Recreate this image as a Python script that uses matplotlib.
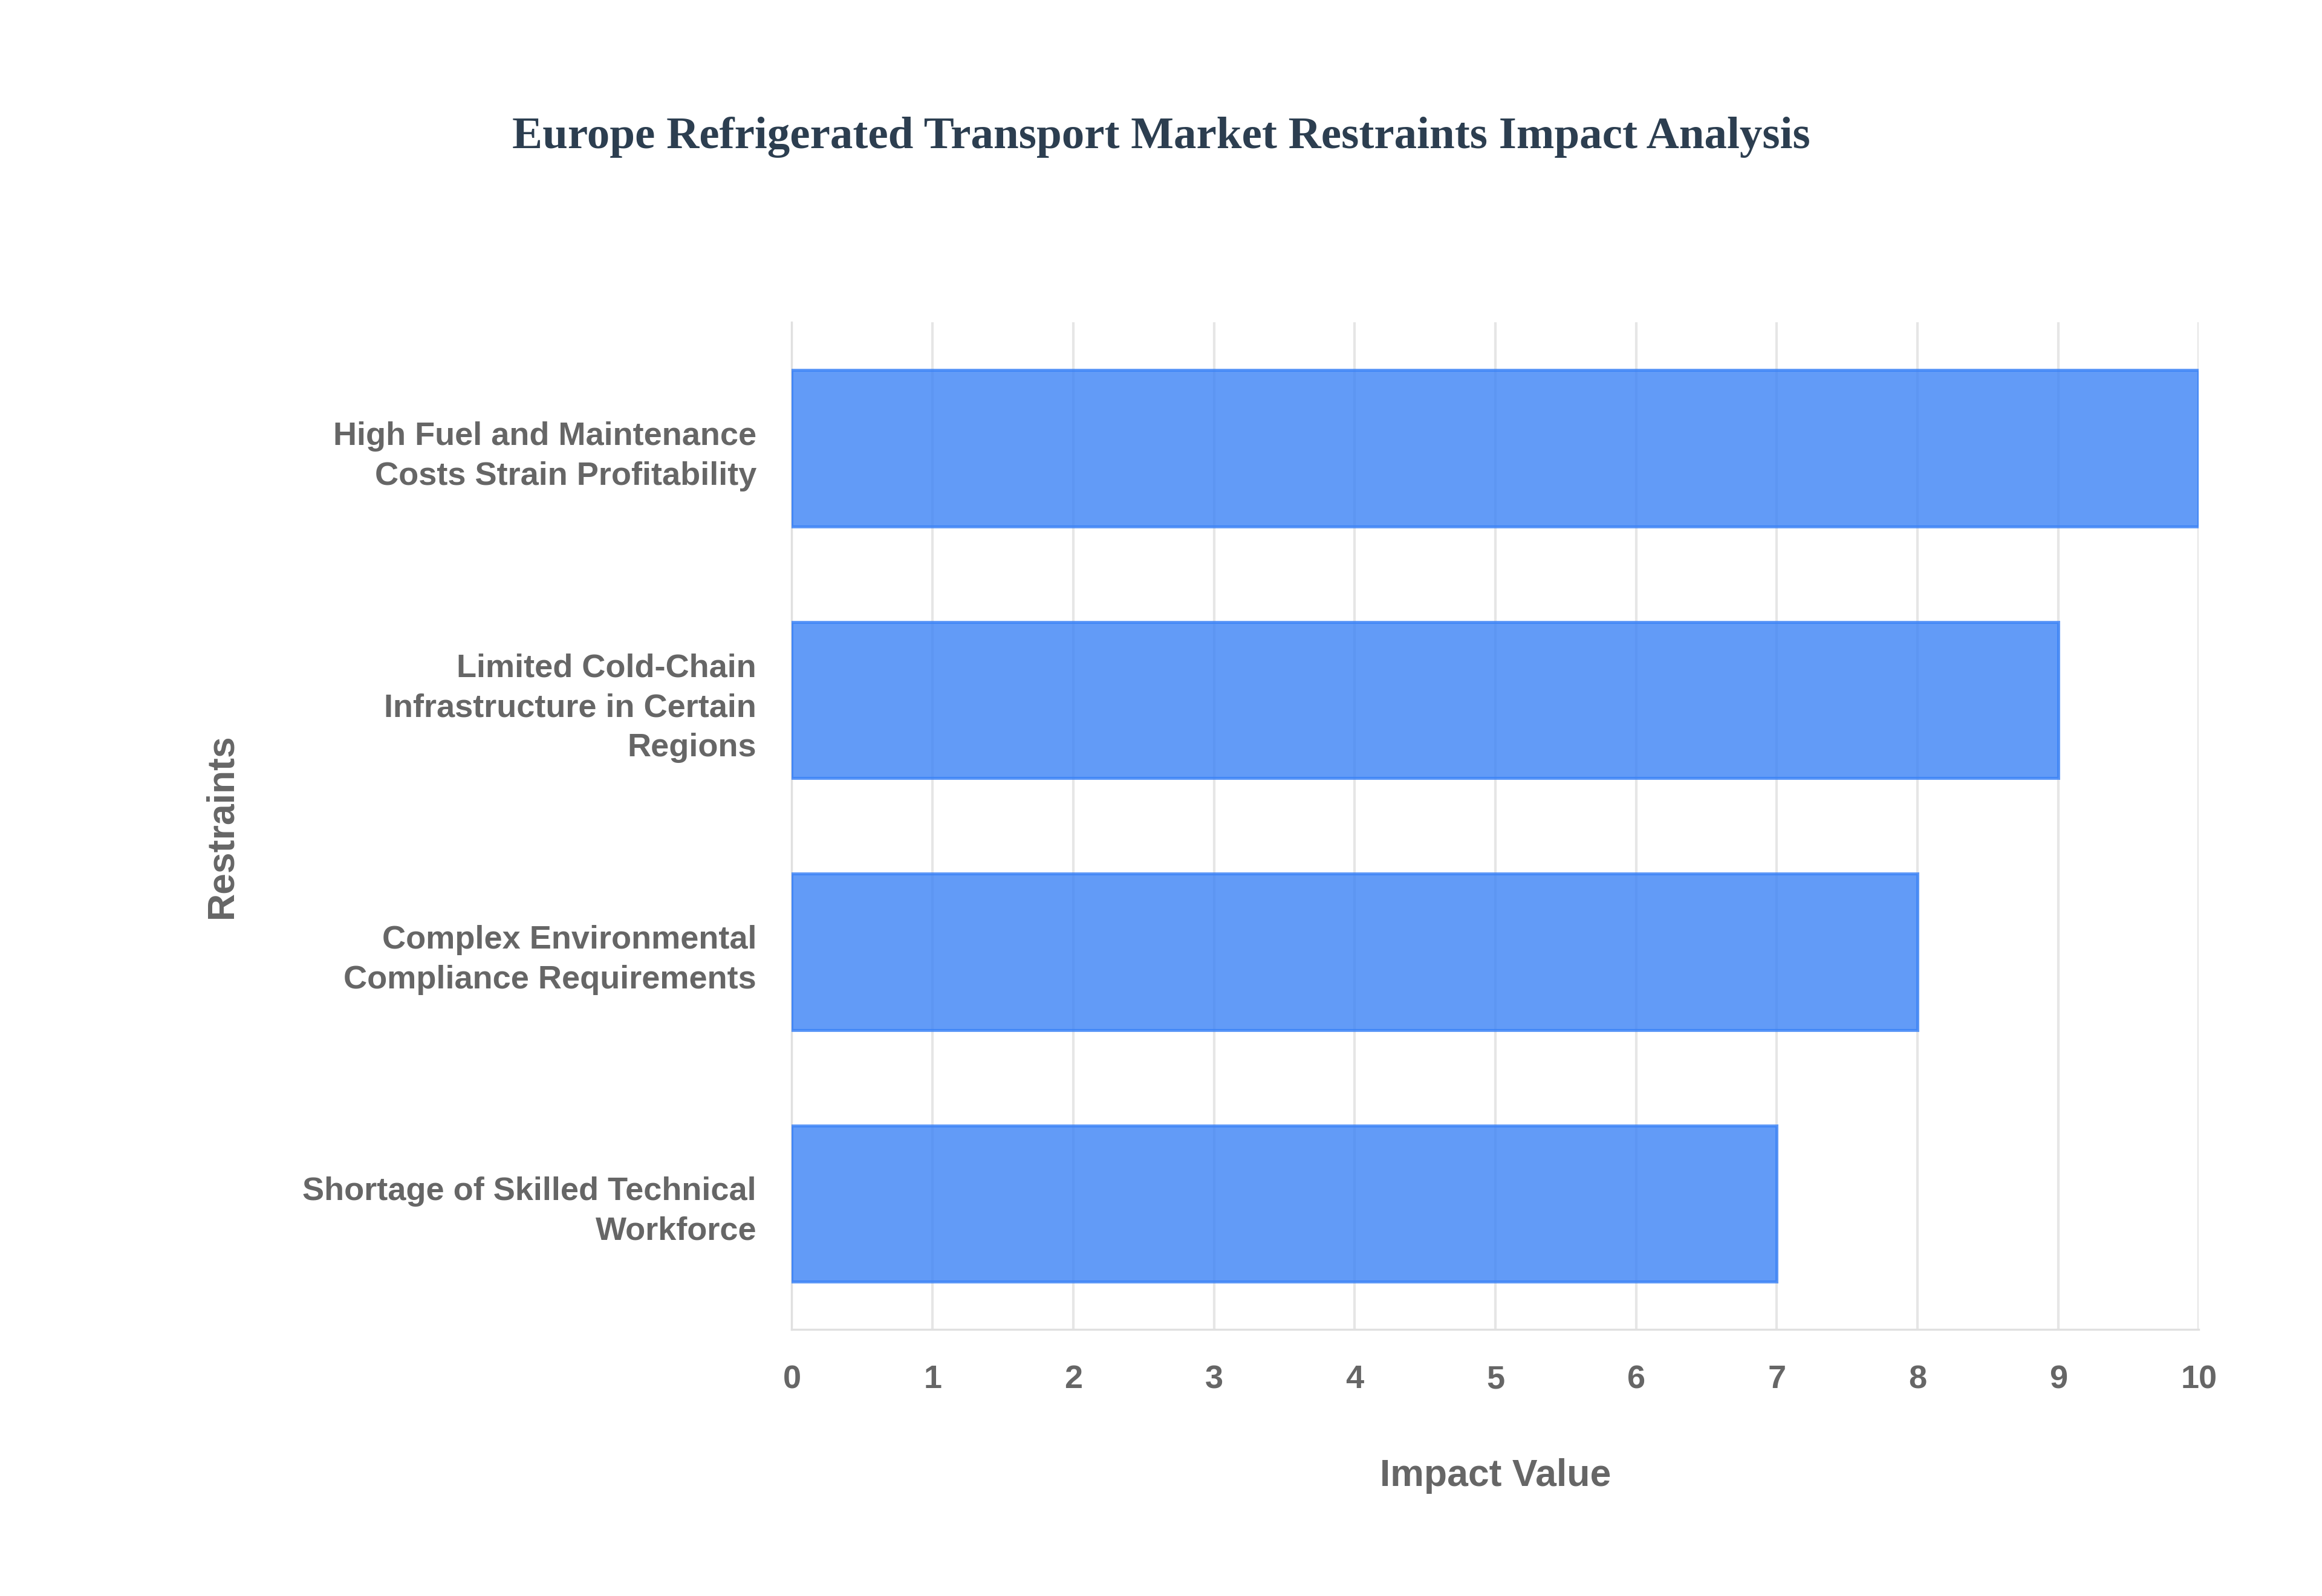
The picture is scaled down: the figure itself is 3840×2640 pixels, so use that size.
import matplotlib.pyplot as plt
import textwrap

restraints = [
    'High Fuel and Maintenance Costs Strain Profitability',
    'Limited Cold-Chain Infrastructure in Certain Regions',
    'Complex Environmental Compliance Requirements',
    'Shortage of Skilled Technical Workforce',
]
impact = [10, 9, 8, 7]
label_lines = [
    'High Fuel and Maintenance\nCosts Strain Profitability',
    'Limited Cold-Chain\nInfrastructure in Certain\nRegions',
    'Complex Environmental\nCompliance Requirements',
    'Shortage of Skilled Technical\nWorkforce',
]

plt.rcParams['font.family'] = ['Liberation Sans', 'DejaVu Sans']
fig = plt.figure(figsize=(12.8, 8.8), dpi=300)
ax = fig.add_axes([0.341, 0.167, 0.606, 0.631])

y = list(range(len(restraints)))[::-1]
ax.barh(y, impact, height=0.62, color='#3b82f6', alpha=0.8,
        edgecolor='#3b82f6', linewidth=1.2, zorder=3)

ax.set_xlim(0, 10)
ax.set_ylim(-0.5, 3.5)
ax.set_xticks(range(0, 11))
ax.set_yticks(y)
ax.set_yticklabels(label_lines, ha='right', linespacing=1.4)
ax.tick_params(axis='both', length=0, labelsize=13, labelcolor='#666666', pad=14)
for t in ax.get_xticklabels() + ax.get_yticklabels():
    t.set_fontweight('bold')
ax.grid(axis='x', color='#e6e6e6', linewidth=1, zorder=0)
for s in ['top', 'right']:
    ax.spines[s].set_visible(False)
for s in ['left', 'bottom']:
    ax.spines[s].set_color('#e0e0e0')

ax.set_xlabel('Impact Value', fontsize=15, fontweight='bold', color='#666666', labelpad=25)
ax.set_ylabel('Restraints', fontsize=15, fontweight='bold', color='#666666', labelpad=25)

fig.text(0.5, 0.914, 'Europe Refrigerated Transport Market Restraints Impact Analysis',
         ha='center', va='center', fontsize=18, fontweight='bold',
         family='Liberation Serif', color='#2c3e50')

fig.savefig('out.png', dpi=300, facecolor='white')
